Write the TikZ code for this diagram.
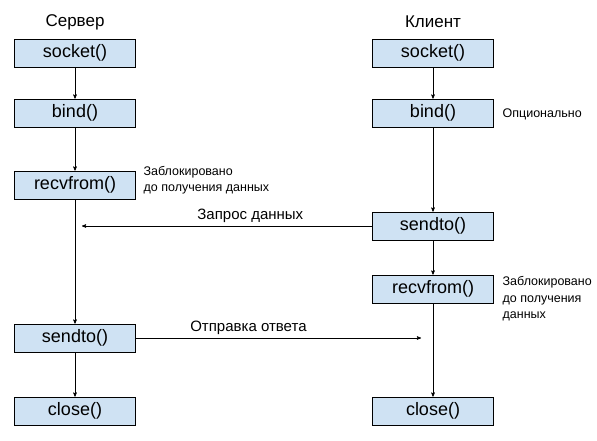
\documentclass[tikz,border=0pt]{standalone}
\usepackage{fontspec}
\setmainfont{Liberation Sans}
\usetikzlibrary{positioning}
\usetikzlibrary{arrows}
\definecolor{boxblue}{HTML}{CFE2F3}

\tikzset{
	call/.style = {draw, fill=boxblue, minimum width=121pt, minimum height=28pt,
	               inner sep=0pt, font=\fontsize{18}{20}\selectfont},
	side/.style = {font=\fontsize{17}{19}\selectfont},
	note/.style = {font=\fontsize{12.5}{16.5}\selectfont, align=left, anchor=west},
	msg/.style  = {font=\fontsize{15}{17}\selectfont, above=0pt}
}

\begin{document}
\begin{tikzpicture}[x=1pt, y=-1pt, >=stealth', semithick,               % Arrow look
	                    node distance = 60pt, on grid]                      % Node placement settings
	\useasboundingbox (0,0) rectangle (597,441);
	% Server column
	\node[side] (Srv) at (75,22) {Сервер};
	\node[call] (sSock) at (75,53) {socket()};
	\node[call] (sBind) [below=of sSock] {bind()};
	\node[call] (sRecv) [below=72pt of sBind] {recvfrom()};
	\node[call] (sSend) [below=153pt of sRecv] {sendto()};
	\node[call] (sClose) [below=73pt of sSend] {close()};
	% Client column
	\node[side] (Cli) at (433,22) {Клиент};
	\node[call] (cSock) at (433,53) {socket()};
	\node[call] (cBind) [below=of cSock] {bind()};
	\node[call] (cSend) [below=113pt of cBind] {sendto()};
	\node[call] (cRecv) [below=63pt of cSend] {recvfrom()};
	\node[call] (cClose) [below=122pt of cRecv] {close()};
	% Notes
	\node[note] (nBlockS) at (140,180) {Заблокировано\\до получения данных};
	\node[note] (nOpt) at (499,114) {Опционально};
	\node[note] (nBlockC) at (499,299) {Заблокировано\\до получения\\данных};
	% Message ends
	\coordinate (reqEnd) at (82,226);
	\coordinate (ansEnd) at (421,338);

	\draw[->] (sSock) -- (sBind);
	\draw[->] (sBind) -- (sRecv);
	\draw[->] (sRecv) -- (sSend);
	\draw[->] (sSend) -- (sClose);
	\draw[->] (cSock) -- (cBind);
	\draw[->] (cBind) -- (cSend);
	\draw[->] (cSend) -- (cRecv);
	\draw[->] (cRecv) -- (cClose);
	\draw[->] (cSend.west) -- node[msg, pos=0.42] {Запрос данных} (reqEnd);
	\draw[->] (sSend.east) -- node[msg, pos=0.395] {Отправка ответа} (ansEnd);
\end{tikzpicture}
\end{document}
